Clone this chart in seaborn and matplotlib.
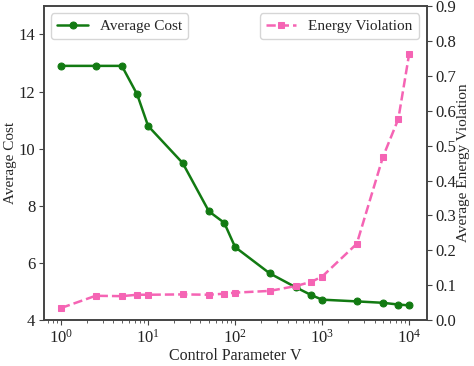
import numpy as np
import pandas as pd
import matplotlib
matplotlib.use("Agg")
import matplotlib.pyplot as plt
import seaborn as sns

# ---------------------------------------------------------
# DATA
# ---------------------------------------------------------
v_values = [1, 2.5, 5, 7.5, 10, 25, 50, 75, 100, 250, 500, 750, 1000, 2500, 5000, 7500, 10000]
avg_cost = [12.9, 12.9, 12.9, 11.9, 10.8, 9.5, 7.81, 7.41, 6.56, 5.64, 5.15, 4.88, 4.72, 4.66, 4.61, 4.55, 4.52]
energy_violation = [0.035, 0.070, 0.069, 0.073, 0.073, 0.074, 0.073, 0.076, 0.079, 0.084,
                    0.098, 0.110, 0.125, 0.219, 0.468, 0.576, 0.763]

df = pd.DataFrame({"V": v_values, "cost": avg_cost, "violation": energy_violation})

# ---------------------------------------------------------
# STYLE
# ---------------------------------------------------------
sns.set_style("ticks")
plt.rcParams["font.family"] = ["Liberation Serif", "DejaVu Serif"]
plt.rcParams["font.size"] = 11
plt.rcParams["axes.edgecolor"] = "#444444"
plt.rcParams["xtick.color"] = "#444444"
plt.rcParams["ytick.color"] = "#444444"
plt.rcParams["xtick.labelcolor"] = "#222222"
plt.rcParams["ytick.labelcolor"] = "#222222"
plt.rcParams["xtick.labelsize"] = 12
plt.rcParams["ytick.labelsize"] = 12
plt.rcParams["xtick.major.pad"] = 2.5
plt.rcParams["ytick.major.pad"] = 2.5
plt.rcParams["xtick.major.size"] = 3.5
plt.rcParams["ytick.major.size"] = 3.5

green = "#127a12"
pink = "#f564b4"

fig, ax = plt.subplots(figsize=(4.74, 3.66), dpi=100)
ax2 = ax.twinx()

sns.lineplot(data=df, x="V", y="cost", ax=ax, color=green, marker="o", markersize=5,
             markeredgecolor=green, linewidth=1.8, label="Average Cost")
sns.lineplot(data=df, x="V", y="violation", ax=ax2, color=pink, marker="s", markersize=5,
             markeredgecolor=pink, linewidth=1.8, linestyle="--", label="Energy Violation")

ax.set_xscale("log")
ax.set_xlim(10 ** -0.2, 10 ** 4.2)
ax.set_ylim(4, 15)
ax.set_yticks([4, 6, 8, 10, 12, 14])
ax2.set_ylim(0, 0.9)
ax2.set_yticks(np.arange(0, 0.91, 0.1))

ax.set_xlabel("Control Parameter V", fontsize=11.5, labelpad=1)
ax.set_ylabel("Average Cost", fontsize=11, labelpad=1)
ax2.set_ylabel("Average Energy Violation", fontsize=11, labelpad=1)

for a in (ax, ax2):
    for s in a.spines.values():
        s.set_visible(True)
        s.set_linewidth(1.2)

ax.legend(loc="upper left", fontsize=11, frameon=True)
ax2.legend(loc="upper right", fontsize=11, frameon=True)

fig.subplots_adjust(left=0.092, right=0.9, top=0.984, bottom=0.125)
fig.savefig("out.png", dpi=100)
